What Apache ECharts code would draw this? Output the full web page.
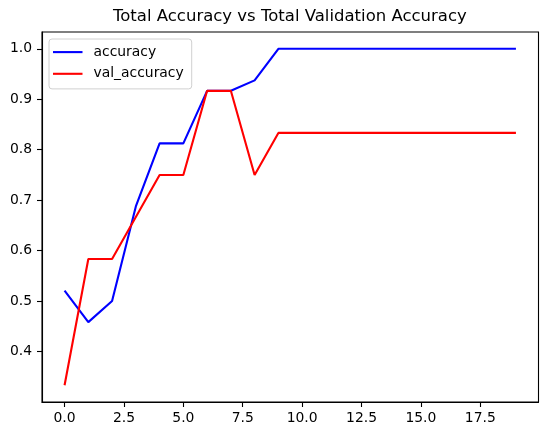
<!DOCTYPE html>
<html>
<head>
<meta charset="utf-8">
<script src="https://cdn.jsdelivr.net/npm/echarts@6/dist/echarts.min.js"></script>
<style>
html,body{margin:0;padding:0;background:#fff;}
#chart{width:547px;height:435px;}
</style>
</head>
<body>
<div id="chart"></div>
<script>
var epochs = [0,1,2,3,4,5,6,7,8,9,10,11,12,13,14,15,16,17,18,19];
var accuracy = [0.5208,0.4583,0.5,0.6875,0.8125,0.8125,0.9167,0.9167,0.9375,1,1,1,1,1,1,1,1,1,1,1];
var valAccuracy = [0.3333,0.5833,0.5833,0.6667,0.75,0.75,0.9167,0.9167,0.75,0.8333,0.8333,0.8333,0.8333,0.8333,0.8333,0.8333,0.8333,0.8333,0.8333,0.8333];
var xTicks = [0,2.5,5,7.5,10,12.5,15,17.5];
var yTicks = [0.4,0.5,0.6,0.7,0.8,0.9,1.0];

var font = 'DejaVu Sans';
var chart = echarts.init(document.getElementById('chart'), null, {renderer:'canvas'});
function pairs(xs, ys){ return xs.map(function(x,i){ return [x, ys[i]]; }); }
chart.setOption({
  animation:false,
  backgroundColor:'#fff',
  title:{
    text:'Total Accuracy vs Total Validation Accuracy',
    left:113, top:8, padding:0,
    textStyle:{fontFamily:font, fontSize:16.5, fontWeight:'normal', color:'#000'}
  },
  legend:{
    orient:'vertical', left:49, top:39,
    padding:[6,8,8,4],
    icon:'rect',
    itemWidth:29.5, itemHeight:2.1, itemGap:7.5,
    borderColor:'#d0d0d0', borderWidth:1, borderRadius:3,
    backgroundColor:'rgba(255,255,255,0.8)',
    textStyle:{fontFamily:font, fontSize:13.9, lineHeight:14.2, color:'#000', padding:[0,0,0,6]},
    data:['accuracy','val_accuracy']
  },
  grid:{left:42, right:8.5, top:32, bottom:33, show:true, borderColor:'#000', borderWidth:1.1, backgroundColor:'transparent'},
  xAxis:{
    type:'value', min:-0.95, max:19.95,
    splitLine:{show:false},
    axisLine:{show:true, onZero:false, lineStyle:{color:'#000', width:1.1}},
    axisTick:{show:true, length:5, lineStyle:{color:'#000', width:1.1}, customValues:xTicks},
    axisLabel:{fontFamily:font, fontSize:13.9, color:'#000', margin:9, customValues:xTicks,
      formatter:function(v){ return v.toFixed(1); }}
  },
  yAxis:{
    type:'value', min:0.3, max:1.0333,
    splitLine:{show:false},
    axisLine:{show:true, onZero:false, lineStyle:{color:'#000', width:1.1}},
    axisTick:{show:true, length:5, lineStyle:{color:'#000', width:1.1}, customValues:yTicks},
    axisLabel:{fontFamily:font, fontSize:13.9, color:'#000', margin:10, customValues:yTicks,
      formatter:function(v){ return v.toFixed(1); }}
  },
  series:[
    {name:'accuracy', type:'line', data:pairs(epochs, accuracy), symbol:'none', showSymbol:false,
      color:'#0000ff', lineStyle:{color:'#0000ff', width:2.1}},
    {name:'val_accuracy', type:'line', data:pairs(epochs, valAccuracy), symbol:'none', showSymbol:false,
      color:'#ff0000', lineStyle:{color:'#ff0000', width:2.1}}
  ]
});
</script>
</body>
</html>
